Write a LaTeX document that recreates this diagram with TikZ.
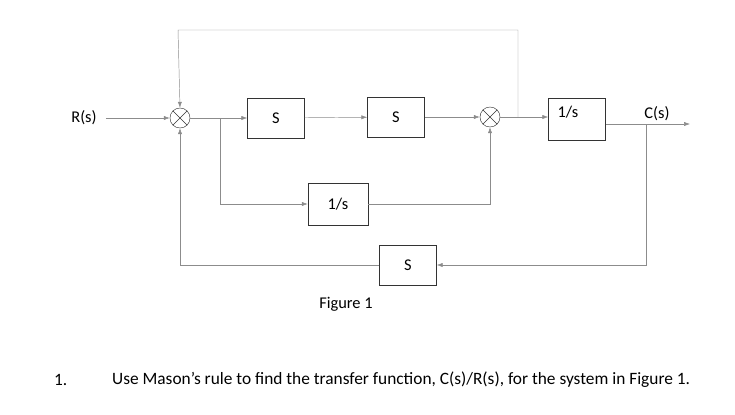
\documentclass[tikz,border=0pt]{standalone}
\usepackage{fontspec}
\setmainfont{Carlito}
\usetikzlibrary{arrows.meta,positioning}
\tikzstyle{block} = [rectangle, draw=black!80, minimum width=57*0.03cm, minimum height=40*0.03cm, font=\fontsize{14}{16}\selectfont]
\tikzstyle{sum} = [circle, draw=black!80, minimum size=20*0.03cm, inner sep=0pt]
\tikzstyle{line} = [draw=black!45, -{Latex[length=5pt,width=3.5pt]}]
\tikzstyle{wire} = [draw=black!45]

\begin{document}
\begin{tikzpicture}[x=0.03cm, y=-0.03cm, font=\fontsize{14}{16}\selectfont]
    \useasboundingbox (0,0) rectangle (735,414);
    % Place nodes
    \node (R) at (84,118) {R(s)};
    \node [sum] (sumA) at (180,118) {};
    \draw [black!80] (sumA.north west) -- (sumA.south east) (sumA.north east) -- (sumA.south west);
    \node [block] (fwdA) at (276,118) {S};
    \node [block] (fwdB) at (396,117) {S};
    \node [sum] (sumB) at (490,117) {};
    \draw [black!80] (sumB.north west) -- (sumB.south east) (sumB.north east) -- (sumB.south west);
    \node [block, minimum height=42*0.03cm] (integ) at (577,119) {};
    \node at (568,112) {1/s};
    \node (C) at (657,114) {C(s)};
    \coordinate (out) at (690,124);
    \node [block, minimum width=60*0.03cm, minimum height=42*0.03cm] (ff) at (338,204) {1/s};
    \node [block] (fb) at (408,265) {S};
    \node (cap) at (346,304) {Figure 1};
    \node [anchor=west, font=\fontsize{14.8}{17}\selectfont] (num) at (50,380) {1.};
    \node [anchor=west, font=\fontsize{14.8}{17}\selectfont] (task) at (108,380) {Use Mason’s rule to find the transfer function, C(s)/R(s), for the system in Figure 1.};

    % Draw edges
    \coordinate (split) at (220,118);
    \coordinate (tap) at (518,117);
    \coordinate (tapC) at (646,124);
    \path [line] (R.east) ++(5,0) -- (sumA);
    \path [line] (sumA) -- (fwdA);
    \path [line] (fwdA) -- (fwdB);
    \path [line] (fwdB) -- (sumB);
    \path [line] (sumB) -- (integ.west |- sumB);
    \path [line] (integ.east |- out) -- (out);
    \path [line] (tap) |- (178,30) -- (sumA.north);
    \path [line] (split) |- (ff.west);
    \path [line] (ff.east) -| (sumB.south);
    \path [line] (tapC) |- (fb.east);
    \path [line] (fb.west) -| (sumA.south);
\end{tikzpicture}
\end{document}
